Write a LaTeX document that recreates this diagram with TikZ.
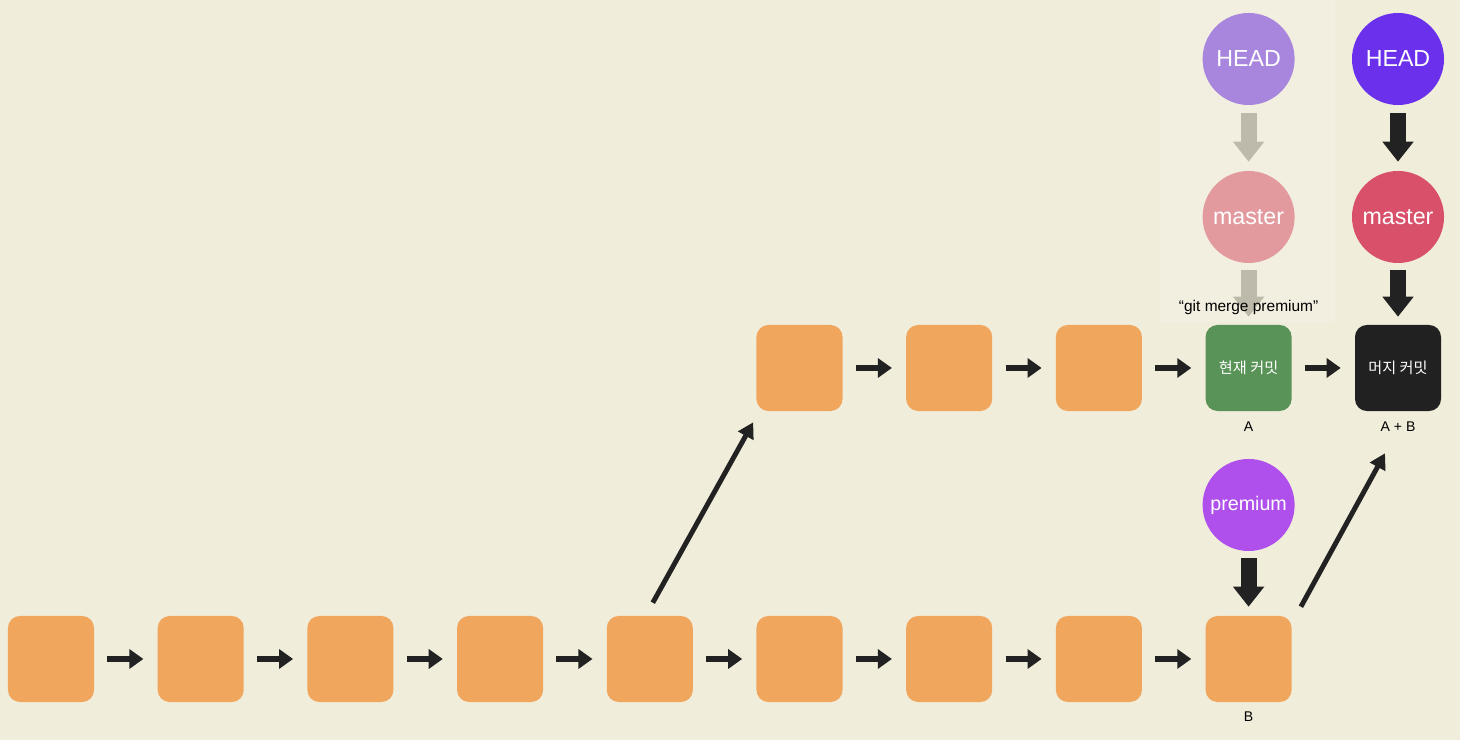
\documentclass[tikz,border=0pt]{standalone}
\usepackage{fontspec}
\setmainfont{Liberation Sans}
\newfontfamily\kor{Noto Sans CJK KR}
\usepackage{tikz}
\usetikzlibrary{arrows.meta,calc}

\definecolor{bgcol}{HTML}{F0EDDB}
\definecolor{bgpale}{HTML}{F2EFE0}
\definecolor{orangebox}{HTML}{F0A65C}
\definecolor{greenbox}{HTML}{5A9357}
\definecolor{blackbox}{HTML}{212121}
\definecolor{headold}{HTML}{A886DE}
\definecolor{headnew}{HTML}{6A30EB}
\definecolor{masterold}{HTML}{E39A9F}
\definecolor{masternew}{HTML}{D9506A}
\definecolor{premiumcol}{HTML}{B050EC}
\definecolor{greyarrow}{HTML}{BDBAAB}
\definecolor{arrowcol}{HTML}{222222}

\begin{document}
\begin{tikzpicture}[x=0.025cm, y=0.025cm,
    commit/.style={rectangle, draw=none, rounded corners=8.5pt, fill=orangebox,
        minimum size=2.15cm, inner sep=0pt, text=white, font=\kor\fontsize{10.8}{12}\selectfont},
    pointer/.style={circle, draw=none, minimum size=2.3cm, inner sep=0pt,
        text=white, font=\fontsize{16.5}{18}\selectfont},
    tag/.style={font=\fontsize{10}{12}\selectfont, inner sep=0pt},
    link/.style={draw=arrowcol, line width=4.25pt, -{Triangle[length=10pt,width=13.5pt]},
        shorten <=0.325cm, shorten >=0.35cm},
    jump/.style={draw=arrowcol, line width=3.5pt, -{Triangle[length=11pt,width=12pt]}},
    refarrow/.style={line width=11.3pt, -{Triangle[length=14.2pt,width=21.3pt]}}
]
\useasboundingbox (0,0) rectangle (1460,740);
\fill[bgcol] (0,0) rectangle (1460,740);
\fill[bgpale] (1160,418) rectangle (1335,740);

% bottom row
\node (C0) [commit] at (51,81) {};
\node (C1) [commit] at (200.7,81) {};
\node (C2) [commit] at (350.4,81) {};
\node (C3) [commit] at (500.1,81) {};
\node (C4) [commit] at (649.8,81) {};
\node (C5) [commit] at (799.5,81) {};
\node (C6) [commit] at (949.2,81) {};
\node (C7) [commit] at (1098.9,81) {};
\node (C8) [commit] at (1248.6,81) {};

% top row
\node (T5) [commit] at (799.5,372) {};
\node (T6) [commit] at (949.2,372) {};
\node (T7) [commit] at (1098.9,372) {};
\node (Cur) [commit, fill=greenbox] at (1248.6,372) {현재 커밋};
\node (Merge) [commit, fill=blackbox] at (1398,372) {머지 커밋};

% labels
\node (LabA) [tag] at (1248.6,313) {A};
\node (LabAB) [tag] at (1398,313) {A + B};
\node (LabB) [tag] at (1248.6,23) {B};

% refs
\node (HeadOld) [pointer, fill=headold] at (1248.6,681) {HEAD};
\node (MasterOld) [pointer, fill=masterold] at (1248.6,523) {master};
\node (HeadNew) [pointer, fill=headnew] at (1398,681) {HEAD};
\node (MasterNew) [pointer, fill=masternew] at (1398,523) {master};
\node (Premium) [pointer, fill=premiumcol, font=\fontsize{14}{16}\selectfont] at (1248.6,235) {premium};

\draw[link] (C0) -- (C1);
\draw[link] (C1) -- (C2);
\draw[link] (C2) -- (C3);
\draw[link] (C3) -- (C4);
\draw[link] (C4) -- (C5);
\draw[link] (C5) -- (C6);
\draw[link] (C6) -- (C7);
\draw[link] (C7) -- (C8);
\draw[link] (T5) -- (T6);
\draw[link] (T6) -- (T7);
\draw[link] (T7) -- (Cur);
\draw[link] (Cur) -- (Merge);

\draw[jump] ($(C4.north)+(3,13)$) -- ($(T5.south west)+(-3,-11)$);
\draw[jump] ($(C8.north east)+(9,9)$) -- ($(Merge.south)+(-13,-42)$);

\draw[refarrow, greyarrow] ($(HeadOld.south)+(0,-8)$) -- ($(MasterOld.north)+(0,9)$);
\draw[refarrow, greyarrow] ($(MasterOld.south)+(0,-7)$) -- ($(Cur.north)+(0,8)$);
\draw[refarrow, arrowcol] ($(HeadNew.south)+(0,-8)$) -- ($(MasterNew.north)+(0,9)$);
\draw[refarrow, arrowcol] ($(MasterNew.south)+(0,-7)$) -- ($(Merge.north)+(0,8)$);
\draw[refarrow, arrowcol] ($(Premium.south)+(0,-7)$) -- ($(C8.north)+(0,9)$);

\node (MergeCmd) [tag, font=\fontsize{11}{13}\selectfont] at (1248.6,432) {“git merge premium”};
\end{tikzpicture}
\end{document}
